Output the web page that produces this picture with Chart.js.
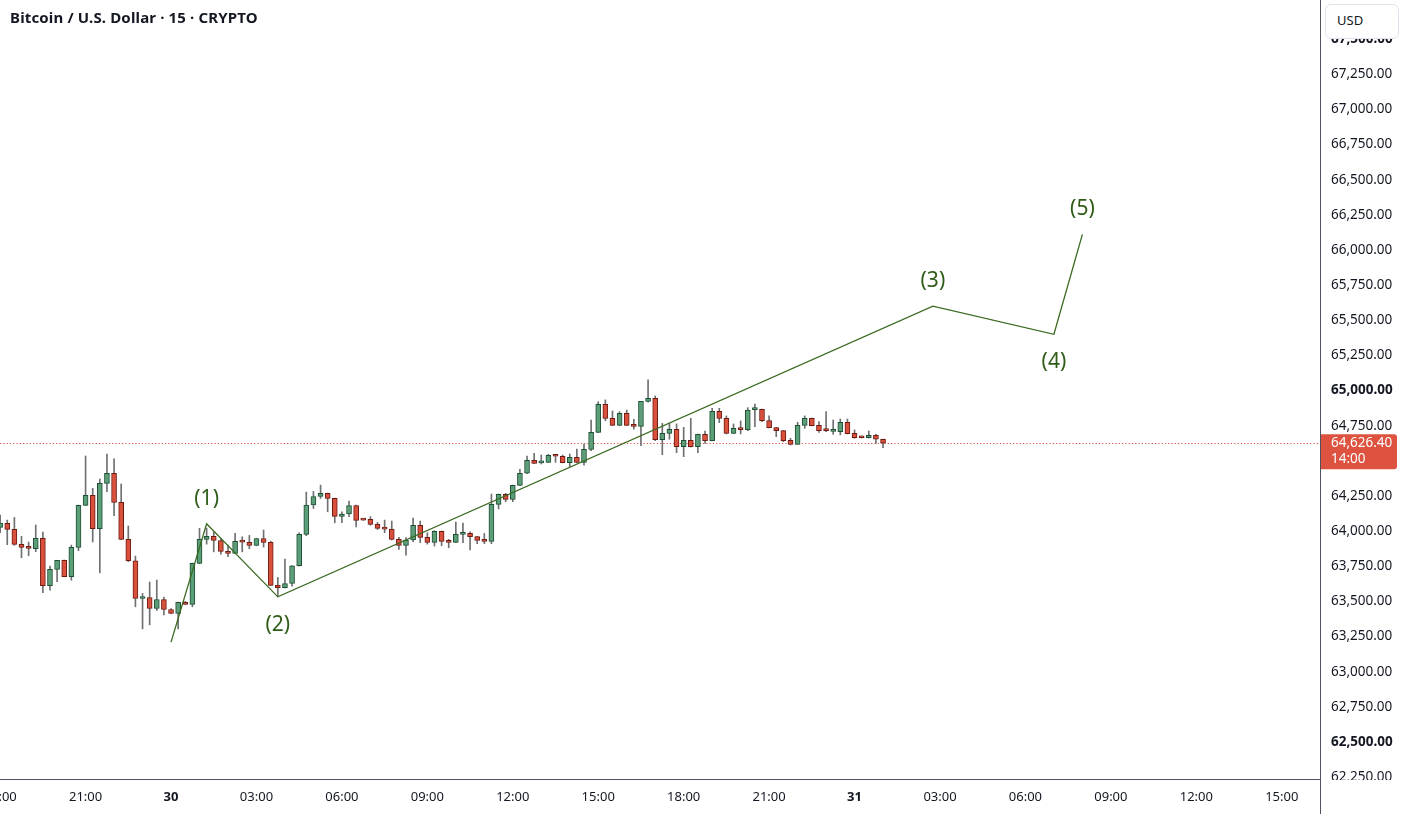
<!DOCTYPE html>
<html><head><meta charset="utf-8">
<script src="https://cdn.jsdelivr.net/npm/chart.js@4.4.1/dist/chart.umd.min.js"></script>
<style>
html,body{margin:0;padding:0;background:#fff;overflow:hidden}
#wrap{position:relative;width:1402px;height:814px;overflow:hidden}
canvas{position:absolute;left:0;top:0}
#title{position:absolute;left:10px;top:7px;font:bold 15px 'Noto Sans',sans-serif;letter-spacing:0.15px;color:#131722;white-space:nowrap}
#usd{position:absolute;left:1325px;top:4px;width:74px;height:35px;border:1px solid #e0e3eb;border-radius:6px;background:#fff;font:13px 'Noto Sans',sans-serif;color:#131722;line-height:31px;padding-left:11px;box-sizing:border-box}
</style></head>
<body><div id="wrap"><canvas id="c" width="1402" height="814"></canvas><div id="title">Bitcoin / U.S. Dollar · 15 · CRYPTO</div><div id="usd">USD</div></div>
<script>
// 15-minute candles starting 29 Oct 18:00
const opens  = [64027,64056,64013,63906,63887,63875,63949,63612,63728,63792,63676,63885,64184,64255,64018,64340,64412,64205,63942,63790,63521,63528,63450,63514,63443,63415,63493,63479,63771,63942,63963,63934,63856,63842,63929,63920,63898,63948,63920,63614,63599,63628,63754,63977,64186,64247,64269,64233,64105,64122,64183,64084,64084,64048,64020,64015,63942,63899,63937,64041,63956,63920,63999,63932,63920,63977,63984,63961,63937,63927,64191,64262,64226,64326,64412,64504,64486,64490,64542,64533,64488,64525,64490,64582,64703,64902,64803,64753,64838,64753,64746,64924,64946,64651,64696,64725,64601,64647,64601,64689,64644,64853,64803,64696,64732,64722,64865,64867,64786,64737,64715,64646,64618,64753,64803,64753,64722,64710,64708,64775,64696,64670,64665,64682,64654];
const highs  = [64115,64079,64098,63963,63923,64044,63994,63752,63792,63795,63901,64186,64535,64305,64371,64549,64514,64336,64037,63823,63557,63638,63652,63531,63450,63495,63500,63773,64020,64022,63996,63948,63901,63984,63960,63970,63950,64008,63929,63671,63801,63756,63989,64278,64283,64328,64271,64235,64138,64214,64185,64086,64103,64062,64079,64072,63956,63954,64093,64072,63989,64003,64001,63942,64065,64058,63996,63963,63984,64264,64264,64269,64328,64440,64535,64554,64542,64547,64547,64542,64549,64585,64620,64791,64921,64934,64855,64850,64862,64796,64924,65076,64962,64767,64767,64763,64739,64803,64691,64713,64874,64874,64820,64763,64784,64879,64905,64869,64820,64739,64717,64661,64775,64820,64805,64779,64851,64791,64798,64798,64720,64677,64713,64689,64656];
const lows   = [63989,63904,63899,63811,63825,63854,63562,63581,63640,63676,63652,63861,64182,63923,63704,64281,64110,63940,63783,63462,63305,63334,63436,63405,63413,63305,63477,63462,63769,63908,63853,63837,63818,63840,63853,63875,63896,63887,63612,63533,63597,63609,63752,63968,64162,64233,64138,64060,64060,64103,64031,64077,64043,64012,63989,63937,63870,63830,63925,63918,63908,63894,63896,63882,63918,63918,63866,63911,63911,63911,64158,64210,64210,64324,64410,64481,64478,64488,64490,64486,64459,64488,64470,64573,64701,64786,64751,64751,64751,64725,64608,64917,64644,64544,64654,64559,64530,64599,64559,64625,64642,64772,64692,64694,64692,64715,64744,64779,64735,64673,64637,64613,64616,64732,64749,64703,64708,64689,64685,64692,64661,64663,64663,64625,64594];
const closes = [64058,64013,63906,63885,63878,63949,63612,63728,63792,63676,63885,64184,64255,64018,64340,64412,64205,63942,63790,63521,63528,63450,63514,63443,63415,63493,63479,63771,63942,63963,63934,63856,63842,63927,63922,63898,63948,63920,63614,63599,63628,63754,63977,64186,64247,64269,64233,64105,64122,64183,64077,64079,64048,64020,64015,63942,63899,63937,64041,63956,63920,63999,63927,63920,63977,63984,63961,63934,63927,64191,64262,64226,64326,64412,64504,64483,64490,64540,64533,64488,64525,64490,64582,64703,64902,64803,64753,64838,64753,64746,64924,64946,64651,64696,64725,64601,64647,64601,64689,64644,64853,64803,64696,64732,64722,64862,64867,64786,64737,64715,64644,64618,64753,64803,64751,64715,64715,64713,64775,64694,64665,64665,64682,64654,64626.4];
const lastPrice = 64626.4;
const lastPriceTimer = '14:00';

// time axis: candle slots, labels every 3 hours
const xTickSlots  = [0,12,24,36,48,60,72,84,96,108,120,132,144,156,168,180];
const xTickLabels = ['18:00','21:00','30','03:00','06:00','09:00','12:00','15:00','18:00','21:00','31','03:00','06:00','09:00','12:00','15:00'];
const xBoldLabels = ['30','31'];

// price axis
const yTickValues = [62250,62500,62750,63000,63250,63500,63750,64000,64250,64500,64750,65000,65250,65500,65750,66000,66250,66500,66750,67000,67250,67500];

// Elliott wave projection
const waveSlots  = [24, 29, 39, 131, 148, 152];
const wavePrices = [63211, 64053, 63533, 65601, 65401, 66112];
const waveLabels = ['', '(1)', '(2)', '(3)', '(4)', '(5)'];
const waveLabelSide = ['', 'above', 'below', 'above', 'below', 'above'];

const FONT = "'Noto Sans', sans-serif";
const UP_FILL = '#5b9e78', UP_LINE = '#1e4f34';
const DN_FILL = '#d9503c', DN_LINE = '#6e1b12';

const bodies = opens.map((o, i) => ({x: i, y: [o, closes[i]]}));
const wicks  = opens.map((o, i) => ({x: i, y: [lows[i], highs[i]]}));
const isUp = opens.map((o, i) => closes[i] >= o);
const waveData = waveSlots.map((s, i) => ({x: s, y: wavePrices[i]}));

function fmt(v){ return v.toLocaleString('en-US',{minimumFractionDigits:2,maximumFractionDigits:2}); }

const overlay = {
  id: 'overlay',
  beforeDatasetsDraw(chart){
    const {ctx, chartArea: a, scales: {y}} = chart;
    const py = Math.round(y.getPixelForValue(lastPrice)) + 0.5;
    ctx.save();
    ctx.strokeStyle = '#d9503f'; ctx.lineWidth = 1; ctx.setLineDash([1.2, 2.1]);
    ctx.beginPath(); ctx.moveTo(a.left, py); ctx.lineTo(a.right, py); ctx.stroke();
    ctx.restore();
  },
  afterDatasetsDraw(chart){
    const {ctx} = chart;
    const pts = chart.getDatasetMeta(0).data;
    ctx.save();
    ctx.fillStyle = '#2f5c18';
    ctx.font = '21px ' + FONT;
    ctx.textAlign = 'center'; ctx.textBaseline = 'middle';
    pts.forEach((p, i) => {
      if (!waveLabels[i]) return;
      const dy = waveLabelSide[i] === 'above' ? -25 : 28;
      ctx.fillText(waveLabels[i], p.x, p.y + dy);
    });
    ctx.restore();
  },
  afterDraw(chart){
    const {ctx, chartArea: a, scales: {y}, width: W, height: H} = chart;
    ctx.save();
    ctx.fillStyle = '#fff';
    ctx.fillRect(a.right + 1, a.bottom + 1, W - a.right, H - a.bottom);
    ctx.strokeStyle = '#50535e'; ctx.lineWidth = 1;
    ctx.beginPath();
    ctx.moveTo(a.right + 0.5, 0); ctx.lineTo(a.right + 0.5, H);
    ctx.moveTo(0, a.bottom + 0.5); ctx.lineTo(a.right, a.bottom + 0.5);
    ctx.stroke();
    const py = y.getPixelForValue(lastPrice);
    const bx = a.right + 1, bw = 76, bt = py - 9, bh = 35, r = 3;
    ctx.fillStyle = '#dd5340';
    ctx.beginPath();
    ctx.moveTo(bx, bt); ctx.lineTo(bx + bw - r, bt); ctx.arcTo(bx + bw, bt, bx + bw, bt + r, r);
    ctx.lineTo(bx + bw, bt + bh - r); ctx.arcTo(bx + bw, bt + bh, bx + bw - r, bt + bh, r);
    ctx.lineTo(bx, bt + bh); ctx.closePath(); ctx.fill();
    ctx.fillStyle = '#ffffff';
    ctx.font = '13.5px ' + FONT; ctx.textAlign = 'left'; ctx.textBaseline = 'middle';
    ctx.fillText(fmt(lastPrice), a.right + 11, py);
    ctx.fillText(lastPriceTimer, a.right + 11, py + 16);
    ctx.restore();
  }
};

new Chart(document.getElementById('c'), {
  type: 'bar',
  data: {
    datasets: [
      { type: 'line', data: waveData, borderColor: '#3a6a20', borderWidth: 1.3, pointRadius: 0, tension: 0, order: 0 },
      { data: bodies, grouped: false, barThickness: 5, minBarLength: 2, borderWidth: 1, borderSkipped: false,
        backgroundColor: isUp.map(u => u ? UP_FILL : DN_FILL), borderColor: isUp.map(u => u ? UP_LINE : DN_LINE), order: 1 },
      { data: wicks, grouped: false, barThickness: 1, borderWidth: 0, backgroundColor: '#6f7072', order: 2 }
    ]
  },
  options: {
    responsive: false, animation: false, devicePixelRatio: 1,
    layout: { padding: 0 },
    plugins: { legend: { display: false }, tooltip: { enabled: false } },
    scales: {
      x: {
        type: 'linear', position: 'bottom', min: -0.02, max: 185.37, offset: false,
        grid: { display: false }, border: { display: false },
        afterBuildTicks: s => { s.ticks = xTickSlots.map(v => ({value: v})); },
        afterFit: s => { s.height = 35; s.paddingLeft = 0; s.paddingRight = 0; },
        ticks: {
          autoSkip: false, maxRotation: 0, padding: 2, color: '#131722',
          callback: v => xTickLabels[xTickSlots.indexOf(v)],
          font: c => ({ family: FONT, size: 13, weight: (c.tick && xBoldLabels.includes(xTickLabels[xTickSlots.indexOf(c.tick.value)])) ? 'bold' : 'normal' })
        }
      },
      y: {
        type: 'linear', position: 'right', min: 62237, max: 67779,
        grid: { display: false, drawTicks: false }, border: { display: false },
        afterBuildTicks: s => { s.ticks = yTickValues.map(v => ({value: v})); },
        afterFit: s => { s.width = 82; s.paddingTop = 0; s.paddingBottom = 0; },
        ticks: {
          padding: 11, color: '#131722', crossAlign: 'near',
          callback: v => fmt(v),
          font: c => ({ family: FONT, size: 13.5, weight: (c.tick && c.tick.value % 2500 === 0) ? 'bold' : 'normal' })
        }
      }
    }
  },
  plugins: [overlay]
});
</script>
</body></html>
